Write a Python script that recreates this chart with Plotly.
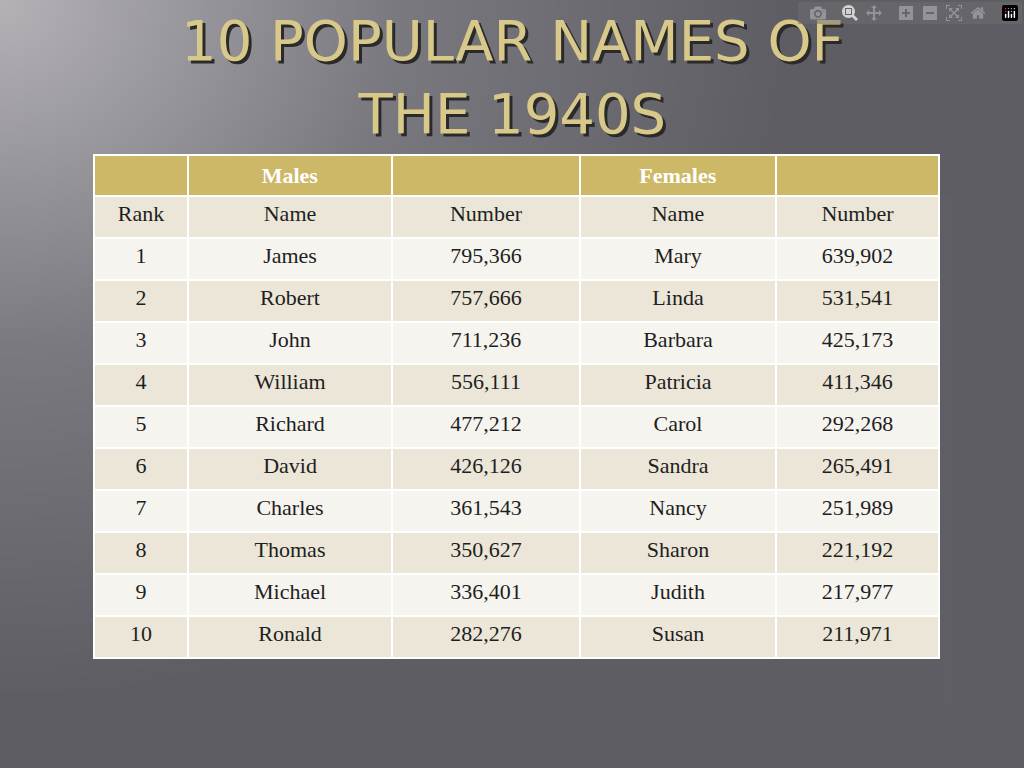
import numpy as np
import plotly.graph_objects as go

ranks = ["Rank", "1", "2", "3", "4", "5", "6", "7", "8", "9", "10"]
male_names = ["Name", "James", "Robert", "John", "William", "Richard", "David",
              "Charles", "Thomas", "Michael", "Ronald"]
male_numbers = ["Number", "795,366", "757,666", "711,236", "556,111", "477,212",
                "426,126", "361,543", "350,627", "336,401", "282,276"]
female_names = ["Name", "Mary", "Linda", "Barbara", "Patricia", "Carol", "Sandra",
                "Nancy", "Sharon", "Judith", "Susan"]
female_numbers = ["Number", "639,902", "531,541", "425,173", "411,346", "292,268",
                  "265,491", "251,989", "221,192", "217,977", "211,971"]
header = ["", "<b>Males</b>", "", "<b>Females</b>", ""]

# background gradient (light top-left, darker bottom-right)
gx = np.linspace(0, 1, 60)
gy = np.linspace(0, 1, 45)
X, Y = np.meshgrid(gx, gy)
Z = np.clip(1 - np.sqrt((X * 1.3) ** 2 + ((1 - Y) * 1.1) ** 2), 0, 1)

fills = []
for i in range(len(ranks)):
    fills.append("#f6f4ef" if i % 2 else "#ebe6d8")

fig = go.Figure()
fig.add_trace(go.Heatmap(z=Z, x=gx, y=gy, showscale=False, hoverinfo="skip",
                         colorscale=[[0, "#5e5d63"], [0.5, "#7a797f"], [1, "#b4b2b7"]],
                         zsmooth="best"))
fig.add_trace(go.Table(
    domain=dict(x=[94 / 1024, 939 / 1024], y=[1 - 706 / 768, 1 - 155 / 768]),
    columnwidth=[94, 204, 188, 196, 163],
    header=dict(values=header, fill_color="#cdb868", height=40,
                line=dict(color="white", width=2), align="center",
                font=dict(family="Liberation Serif", size=22, color="white")),
    cells=dict(values=[ranks, male_names, male_numbers, female_names, female_numbers],
               fill_color=[fills] * 5, height=42,
               line=dict(color="white", width=2), align="center",
               font=dict(family="Liberation Serif", size=22, color="#1e1e1e")),
))

title = "10 POPULAR NAMES OF<br>THE 1940S"
fig.add_annotation(text=title, x=0.5 + 3 / 1024, y=1 - 6 / 768 - 3 / 768, xref="paper", yref="paper",
                   xanchor="center", yanchor="top", showarrow=False,
                   font=dict(family="DejaVu Sans", size=56, color="#2a2a2a"))
fig.add_annotation(text=title, x=0.5, y=1 - 6 / 768, xref="paper", yref="paper",
                   xanchor="center", yanchor="top", showarrow=False,
                   font=dict(family="DejaVu Sans", size=56, color="#d8c98a"))

fig.update_layout(width=1024, height=768, margin=dict(l=0, r=0, t=0, b=0),
                  xaxis=dict(visible=False, range=[0, 1], domain=[0, 1]),
                  yaxis=dict(visible=False, range=[0, 1], domain=[0, 1]),
                  paper_bgcolor="#6e6d72")
fig.write_html("out.html")

with open("out.html", encoding="utf-8") as f:
    page = f.read()
page = page.replace("<body>", '<body style="margin:0;overflow:hidden">', 1)
with open("out.html", "w", encoding="utf-8") as f:
    f.write(page)
